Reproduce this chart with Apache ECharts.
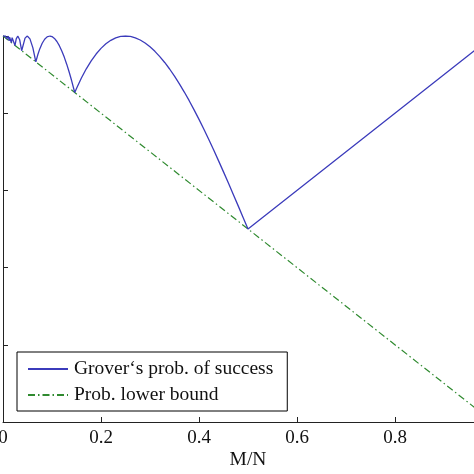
<!DOCTYPE html>
<html>
<head>
<meta charset="utf-8">
<script src="https://cdn.jsdelivr.net/npm/echarts@6/dist/echarts.min.js"></script>
<style>
  html, body { margin: 0; padding: 0; background: #fff; overflow: hidden; }
  #chart { width: 500px; height: 474px; }
</style>
</head>
<body>
<div id="chart"></div>
<script>
// success probability (arches between the cusps)
const groverX = [
  0, 0.003, 0.005, 0.0075, 0.0096, 0.0109, 0.0125, 0.0135, 0.0145, 0.0158, 0.0170,
  0.0186, 0.0203, 0.0222, 0.0245, 0.027, 0.0302, 0.034, 0.0381,
  0.045, 0.0495, 0.055, 0.061, 0.067,
  0.071, 0.075, 0.080, 0.085, 0.090, 0.0955, 0.100, 0.105, 0.110, 0.115,
  0.120, 0.125, 0.130, 0.135, 0.140, 0.1464,
  0.15, 0.16, 0.17, 0.18, 0.19, 0.20, 0.21, 0.22, 0.23, 0.24, 0.25,
  0.26, 0.27, 0.28, 0.29, 0.30, 0.31, 0.32, 0.33, 0.34, 0.35, 0.36, 0.37,
  0.38, 0.39, 0.40, 0.41, 0.42, 0.43, 0.44, 0.45, 0.46, 0.47, 0.48, 0.49, 0.50,
  0.75, 1.0
];
const groverY = [
  1.0, 0.997, 1.0, 0.9925, 0.9904, 1.0, 0.9875, 0.9969, 1.0, 0.9954, 0.983,
  0.9956, 1.0, 0.9945, 0.9755, 0.9927, 1.0, 0.9904, 0.9619,
  0.9945, 1.0, 0.9926, 0.9693, 0.933,
  0.9514, 0.9666, 0.9813, 0.9916, 0.9978, 1.0, 0.9986, 0.9937, 0.9858, 0.9749,
  0.9613, 0.9453, 0.927, 0.9067, 0.8846, 0.8536,
  0.864, 0.8911, 0.915, 0.9357, 0.9533, 0.968, 0.9798, 0.9888, 0.9951, 0.9988, 1.0,
  0.9988, 0.9953, 0.9896, 0.9818, 0.972, 0.9603, 0.9467, 0.9314, 0.9145, 0.896, 0.8761, 0.8548,
  0.8324, 0.8087, 0.784, 0.7583, 0.7318, 0.7045, 0.6765, 0.648, 0.619, 0.5896, 0.5599, 0.53, 0.5,
  0.75, 1.0
];
const boundX = [0, 1];
const boundY = [1, 0];
const xTicks = [0, 0.2, 0.4, 0.6, 0.8, 1];

const names = ['Grover\u2018s prob. of success', 'Prob. lower bound'];

const chart = echarts.init(document.getElementById('chart'), null, { renderer: 'canvas' });

const serif = '"Liberation Serif", "DejaVu Serif", serif';

chart.setOption({
  animation: false,
  backgroundColor: '#fff',
  grid: { left: 3, right: 7, top: 36, bottom: 52, outerBoundsMode: 'none', containLabel: false },
  legend: {
    orient: 'vertical',
    left: 17,
    top: 352,
    padding: [7, 14, 6, 10],
    itemGap: 6,
    itemWidth: 40,
    itemHeight: 20,
    backgroundColor: '#fff',
    borderColor: '#000',
    borderWidth: 1,
    borderRadius: 0,
    itemStyle: { opacity: 0 },
    textStyle: { fontFamily: serif, fontSize: 19.5, color: '#111', padding: [0, 0, 0, 1] },
    data: names
  },
  xAxis: {
    type: 'value',
    min: 0,
    max: 1,
    interval: 0.2,
    name: 'M/N',
    nameLocation: 'middle',
    nameGap: 28,
    nameMoveOverlap: false,
    nameTextStyle: { fontFamily: serif, fontSize: 19.5, color: '#111' },
    axisLine: { lineStyle: { color: '#222', width: 1 } },
    axisTick: { inside: true, length: 5, lineStyle: { color: '#222' } },
    axisLabel: {
      fontFamily: serif, fontSize: 19, color: '#111', margin: 7,
      formatter: v => (xTicks.includes(Math.round(v * 10) / 10) ? String(Math.round(v * 10) / 10) : '')
    },
    splitLine: { show: false }
  },
  yAxis: {
    type: 'value',
    min: 0,
    max: 1,
    interval: 0.2,
    axisLine: { show: true, lineStyle: { color: '#222', width: 1 } },
    axisTick: { show: true, inside: true, length: 5, lineStyle: { color: '#222' } },
    axisLabel: { show: false },
    splitLine: { show: false }
  },
  series: [
    {
      name: names[0],
      type: 'line',
      symbol: 'none',
      data: groverX.map((x, i) => [x, groverY[i]]),
      lineStyle: { color: '#3b3bbb', width: 1.3 },
      itemStyle: { color: '#3b3bbb' },
      z: 3
    },
    {
      name: names[1],
      type: 'line',
      symbol: 'none',
      data: boundX.map((x, i) => [x, boundY[i]]),
      lineStyle: { color: '#2f8a2f', width: 1.2, type: [7, 3, 1.5, 3] },
      itemStyle: { color: '#2f8a2f' },
      z: 2
    }
  ]
});
</script>
</body>
</html>
